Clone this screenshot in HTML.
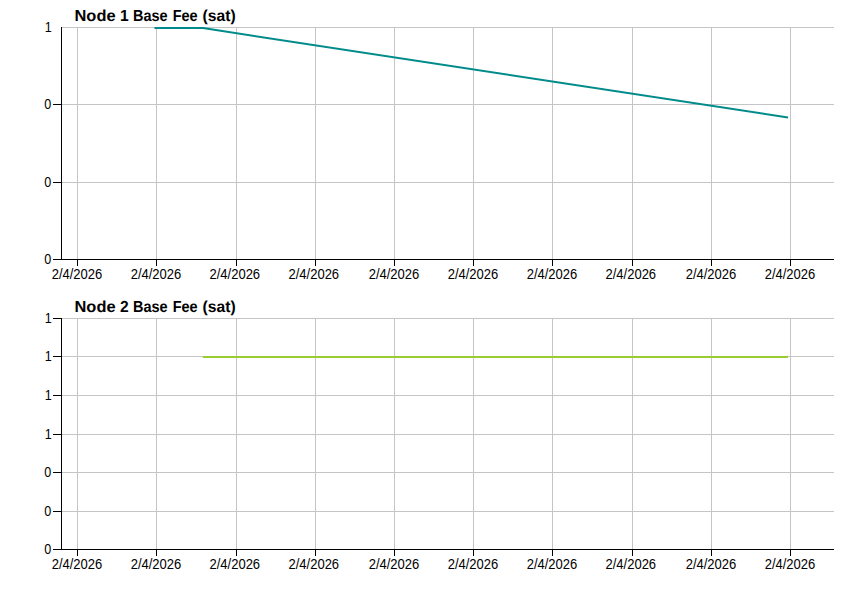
<!DOCTYPE html>
<html><head><meta charset="utf-8"><title>Base Fee Charts</title>
<style>
html,body{margin:0;padding:0;background:#fff;}
body{width:860px;height:600px;overflow:hidden;}
svg{display:block;}
.t{font-family:"Liberation Sans",sans-serif;font-size:14px;fill:#000;}
.h{font-family:"Liberation Sans",sans-serif;font-size:16px;font-weight:bold;fill:#000;text-rendering:geometricPrecision;}
rect{shape-rendering:crispEdges;}
</style></head><body>
<svg width="860" height="600" viewBox="0 0 860 600">
<rect x="0" y="0" width="860" height="600" fill="#fff"/>
<rect x="62" y="27" width="772" height="1" fill="#c5c5c5"/>
<rect x="62" y="104" width="772" height="1" fill="#c5c5c5"/>
<rect x="62" y="182" width="772" height="1" fill="#c5c5c5"/>
<rect x="77" y="27" width="1" height="232" fill="#c5c5c5"/>
<rect x="156" y="27" width="1" height="232" fill="#c5c5c5"/>
<rect x="236" y="27" width="1" height="232" fill="#c5c5c5"/>
<rect x="315" y="27" width="1" height="232" fill="#c5c5c5"/>
<rect x="394" y="27" width="1" height="232" fill="#c5c5c5"/>
<rect x="473" y="27" width="1" height="232" fill="#c5c5c5"/>
<rect x="552" y="27" width="1" height="232" fill="#c5c5c5"/>
<rect x="632" y="27" width="1" height="232" fill="#c5c5c5"/>
<rect x="711" y="27" width="1" height="232" fill="#c5c5c5"/>
<rect x="790" y="27" width="1" height="232" fill="#c5c5c5"/>
<polyline points="154.5,28.1 203,28.1 788,117.5" fill="none" stroke="#008b8b" stroke-width="2" stroke-linejoin="round"/>
<rect x="61" y="27" width="1" height="233" fill="#000"/>
<rect x="61" y="259" width="773" height="1" fill="#000"/>
<text class="t" x="51.7" y="31.6" text-anchor="end" textLength="7" lengthAdjust="spacingAndGlyphs">1</text>
<rect x="53" y="104" width="8" height="1" fill="#000"/>
<text class="t" x="51.2" y="108.6" text-anchor="end" textLength="7" lengthAdjust="spacingAndGlyphs">0</text>
<rect x="53" y="182" width="8" height="1" fill="#000"/>
<text class="t" x="51.2" y="186.6" text-anchor="end" textLength="7" lengthAdjust="spacingAndGlyphs">0</text>
<rect x="53" y="259" width="8" height="1" fill="#000"/>
<text class="t" x="51.2" y="263.6" text-anchor="end" textLength="7" lengthAdjust="spacingAndGlyphs">0</text>
<rect x="77" y="260" width="1" height="6" fill="#000"/>
<text class="t" x="77" y="279.3" text-anchor="middle" textLength="50.6" lengthAdjust="spacingAndGlyphs">2/4/2026</text>
<rect x="156" y="260" width="1" height="6" fill="#000"/>
<text class="t" x="156" y="279.3" text-anchor="middle" textLength="50.6" lengthAdjust="spacingAndGlyphs">2/4/2026</text>
<rect x="236" y="260" width="1" height="6" fill="#000"/>
<text class="t" x="234.8" y="279.3" text-anchor="middle" textLength="50.6" lengthAdjust="spacingAndGlyphs">2/4/2026</text>
<rect x="315" y="260" width="1" height="6" fill="#000"/>
<text class="t" x="313.8" y="279.3" text-anchor="middle" textLength="50.6" lengthAdjust="spacingAndGlyphs">2/4/2026</text>
<rect x="394" y="260" width="1" height="6" fill="#000"/>
<text class="t" x="394" y="279.3" text-anchor="middle" textLength="50.6" lengthAdjust="spacingAndGlyphs">2/4/2026</text>
<rect x="473" y="260" width="1" height="6" fill="#000"/>
<text class="t" x="473" y="279.3" text-anchor="middle" textLength="50.6" lengthAdjust="spacingAndGlyphs">2/4/2026</text>
<rect x="552" y="260" width="1" height="6" fill="#000"/>
<text class="t" x="552" y="279.3" text-anchor="middle" textLength="50.6" lengthAdjust="spacingAndGlyphs">2/4/2026</text>
<rect x="632" y="260" width="1" height="6" fill="#000"/>
<text class="t" x="630.8" y="279.3" text-anchor="middle" textLength="50.6" lengthAdjust="spacingAndGlyphs">2/4/2026</text>
<rect x="711" y="260" width="1" height="6" fill="#000"/>
<text class="t" x="711" y="279.3" text-anchor="middle" textLength="50.6" lengthAdjust="spacingAndGlyphs">2/4/2026</text>
<rect x="790" y="260" width="1" height="6" fill="#000"/>
<text class="t" x="790" y="279.3" text-anchor="middle" textLength="50.6" lengthAdjust="spacingAndGlyphs">2/4/2026</text>
<text class="h" y="21" xml:space="preserve"><tspan x="74.5" textLength="45.6" lengthAdjust="spacingAndGlyphs">Node </tspan><tspan x="120" textLength="13" lengthAdjust="spacingAndGlyphs">1 </tspan><tspan x="133" textLength="38.6" lengthAdjust="spacingAndGlyphs">Base </tspan><tspan x="172.7" textLength="28.9" lengthAdjust="spacingAndGlyphs">Fee </tspan><tspan x="202.6" textLength="33" lengthAdjust="spacingAndGlyphs">(sat)</tspan></text>
<rect x="62" y="318" width="772" height="1" fill="#c5c5c5"/>
<rect x="62" y="356" width="772" height="1" fill="#c5c5c5"/>
<rect x="62" y="395" width="772" height="1" fill="#c5c5c5"/>
<rect x="62" y="434" width="772" height="1" fill="#c5c5c5"/>
<rect x="62" y="472" width="772" height="1" fill="#c5c5c5"/>
<rect x="62" y="511" width="772" height="1" fill="#c5c5c5"/>
<rect x="77" y="318" width="1" height="231" fill="#c5c5c5"/>
<rect x="156" y="318" width="1" height="231" fill="#c5c5c5"/>
<rect x="236" y="318" width="1" height="231" fill="#c5c5c5"/>
<rect x="315" y="318" width="1" height="231" fill="#c5c5c5"/>
<rect x="394" y="318" width="1" height="231" fill="#c5c5c5"/>
<rect x="473" y="318" width="1" height="231" fill="#c5c5c5"/>
<rect x="552" y="318" width="1" height="231" fill="#c5c5c5"/>
<rect x="632" y="318" width="1" height="231" fill="#c5c5c5"/>
<rect x="711" y="318" width="1" height="231" fill="#c5c5c5"/>
<rect x="790" y="318" width="1" height="231" fill="#c5c5c5"/>
<polyline points="202.8,357 788,357" fill="none" stroke="#9acd32" stroke-width="2" stroke-linejoin="round"/>
<rect x="61" y="318" width="1" height="232" fill="#000"/>
<rect x="61" y="549" width="773" height="1" fill="#000"/>
<rect x="53" y="318" width="8" height="1" fill="#000"/>
<text class="t" x="51.7" y="322.6" text-anchor="end" textLength="7" lengthAdjust="spacingAndGlyphs">1</text>
<rect x="53" y="356" width="8" height="1" fill="#000"/>
<text class="t" x="51.7" y="360.6" text-anchor="end" textLength="7" lengthAdjust="spacingAndGlyphs">1</text>
<rect x="53" y="395" width="8" height="1" fill="#000"/>
<text class="t" x="51.7" y="399.6" text-anchor="end" textLength="7" lengthAdjust="spacingAndGlyphs">1</text>
<rect x="53" y="434" width="8" height="1" fill="#000"/>
<text class="t" x="51.7" y="438.6" text-anchor="end" textLength="7" lengthAdjust="spacingAndGlyphs">1</text>
<rect x="53" y="472" width="8" height="1" fill="#000"/>
<text class="t" x="51.2" y="476.6" text-anchor="end" textLength="7" lengthAdjust="spacingAndGlyphs">0</text>
<rect x="53" y="511" width="8" height="1" fill="#000"/>
<text class="t" x="51.2" y="515.6" text-anchor="end" textLength="7" lengthAdjust="spacingAndGlyphs">0</text>
<rect x="53" y="549" width="8" height="1" fill="#000"/>
<text class="t" x="51.2" y="553.6" text-anchor="end" textLength="7" lengthAdjust="spacingAndGlyphs">0</text>
<rect x="77" y="550" width="1" height="6" fill="#000"/>
<text class="t" x="77" y="569.3" text-anchor="middle" textLength="50.6" lengthAdjust="spacingAndGlyphs">2/4/2026</text>
<rect x="156" y="550" width="1" height="6" fill="#000"/>
<text class="t" x="156" y="569.3" text-anchor="middle" textLength="50.6" lengthAdjust="spacingAndGlyphs">2/4/2026</text>
<rect x="236" y="550" width="1" height="6" fill="#000"/>
<text class="t" x="234.8" y="569.3" text-anchor="middle" textLength="50.6" lengthAdjust="spacingAndGlyphs">2/4/2026</text>
<rect x="315" y="550" width="1" height="6" fill="#000"/>
<text class="t" x="313.8" y="569.3" text-anchor="middle" textLength="50.6" lengthAdjust="spacingAndGlyphs">2/4/2026</text>
<rect x="394" y="550" width="1" height="6" fill="#000"/>
<text class="t" x="394" y="569.3" text-anchor="middle" textLength="50.6" lengthAdjust="spacingAndGlyphs">2/4/2026</text>
<rect x="473" y="550" width="1" height="6" fill="#000"/>
<text class="t" x="473" y="569.3" text-anchor="middle" textLength="50.6" lengthAdjust="spacingAndGlyphs">2/4/2026</text>
<rect x="552" y="550" width="1" height="6" fill="#000"/>
<text class="t" x="552" y="569.3" text-anchor="middle" textLength="50.6" lengthAdjust="spacingAndGlyphs">2/4/2026</text>
<rect x="632" y="550" width="1" height="6" fill="#000"/>
<text class="t" x="630.8" y="569.3" text-anchor="middle" textLength="50.6" lengthAdjust="spacingAndGlyphs">2/4/2026</text>
<rect x="711" y="550" width="1" height="6" fill="#000"/>
<text class="t" x="711" y="569.3" text-anchor="middle" textLength="50.6" lengthAdjust="spacingAndGlyphs">2/4/2026</text>
<rect x="790" y="550" width="1" height="6" fill="#000"/>
<text class="t" x="790" y="569.3" text-anchor="middle" textLength="50.6" lengthAdjust="spacingAndGlyphs">2/4/2026</text>
<text class="h" y="311.5" xml:space="preserve"><tspan x="74.5" textLength="45.6" lengthAdjust="spacingAndGlyphs">Node </tspan><tspan x="120" textLength="13" lengthAdjust="spacingAndGlyphs">2 </tspan><tspan x="133" textLength="38.6" lengthAdjust="spacingAndGlyphs">Base </tspan><tspan x="172.7" textLength="28.9" lengthAdjust="spacingAndGlyphs">Fee </tspan><tspan x="202.6" textLength="33" lengthAdjust="spacingAndGlyphs">(sat)</tspan></text>
</svg>
</body></html>
